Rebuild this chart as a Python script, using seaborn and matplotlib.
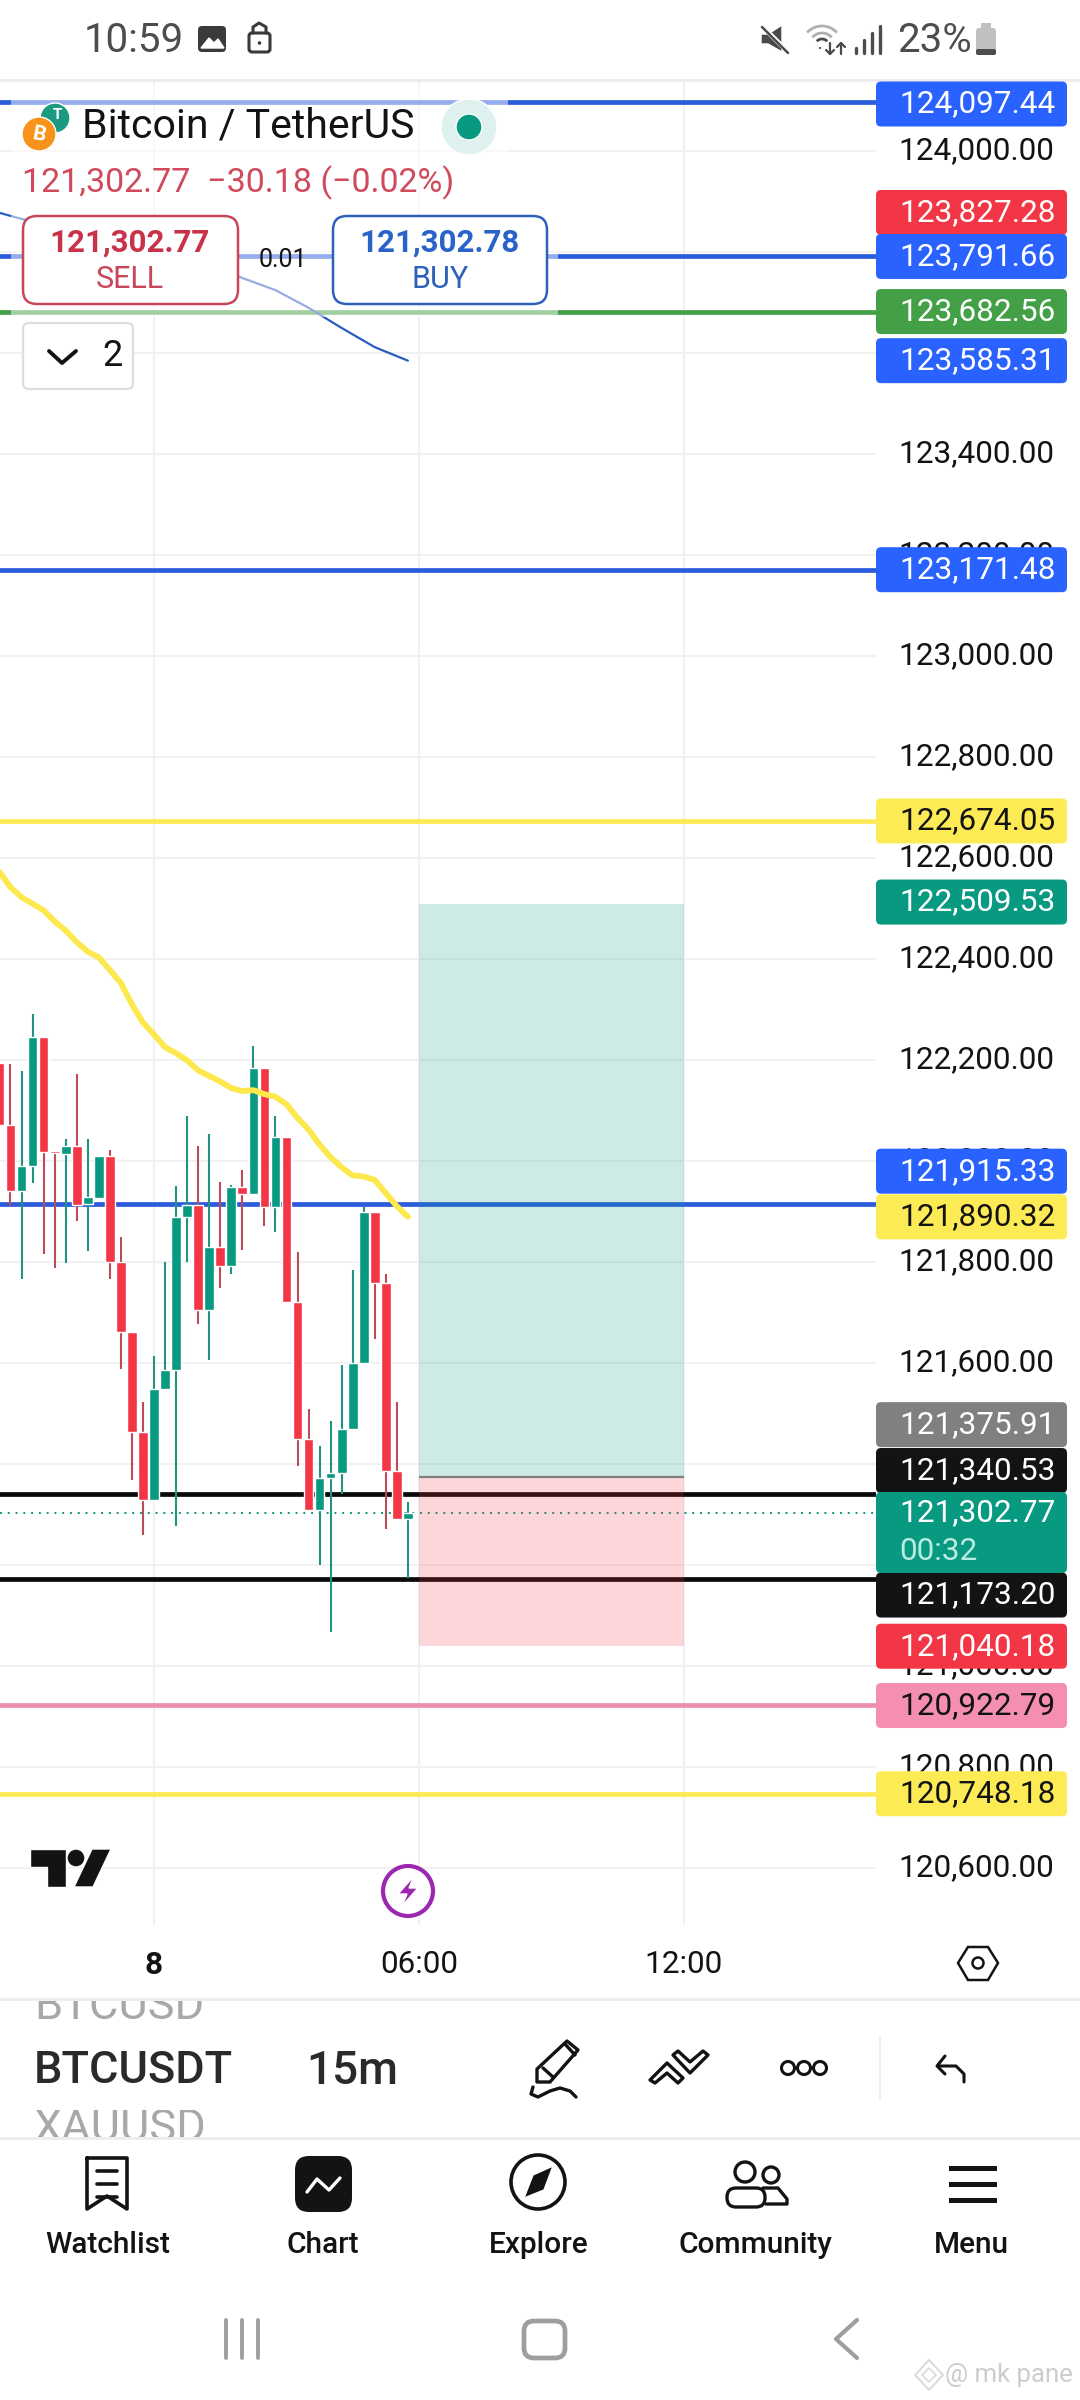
import matplotlib
matplotlib.use('Agg')
import matplotlib.pyplot as plt
import seaborn as sns
from matplotlib.patches import Arc, Circle, FancyBboxPatch, Polygon, Rectangle
from matplotlib.transforms import ScaledTranslation

# candles, 15m
opens = [122195, 122071, 121942, 121990, 122247, 122020, 122014, 122030, 121915, 121927,
         122010, 121800, 121662, 121465, 121330, 121550, 121586, 121889, 121913, 121705,
         121831, 121792, 121949, 121936, 122185, 121909, 122048, 121722, 121451, 121310,
         121374, 121382, 121470, 121601, 121899, 121760, 121387, 121291]
closes = [122071, 121942, 121990, 122247, 122018, 122017, 122030, 121914, 121929, 122010,
          121800, 121662, 121465, 121330, 121550, 121586, 121889, 121913, 121705, 121831,
          121792, 121949, 121936, 122185, 121909, 122048, 121722, 121451, 121310, 121374,
          121382, 121470, 121601, 121899, 121760, 121387, 121291, 121302.77]
highs = [122195, 122192, 122179, 122291, 122247, 122020, 122045, 122172, 122045, 122010,
         122022, 121850, 121662, 121523, 121614, 121800, 121951, 122089, 122030, 122055,
         121960, 121954, 121982, 122228, 122185, 122089, 122048, 121820, 121510, 121436,
         121485, 121596, 121785, 121909, 121899, 121776, 121523, 121325]
lows = [122060, 121911, 121768, 121958, 121816, 121788, 121798, 121881, 121823, 121927,
        121768, 121588, 121369, 121261, 121330, 121550, 121278, 121800, 121677, 121606,
        121750, 121776, 121825, 121936, 121871, 121861, 121722, 121396, 121310, 121200,
        121068, 121341, 121470, 121601, 121648, 121273, 121291, 121175]

yellow_ma = [122573, 122543, 122523, 122510, 122497, 122475, 122457, 122434, 122415, 122404,
             122379, 122353, 122311, 122275, 122251, 122226, 122214, 122200, 122180, 122169,
             122158, 122145, 122139, 122141, 122133, 122128, 122113, 122086, 122063, 122033,
             122008, 121988, 121972, 121970, 121963, 121937, 121911, 121890.32]
blue_ma_idx = [0, 2, 8, 14, 20, 22, 25, 28, 31, 34, 37]
blue_ma = [123878, 123866, 123836, 123804, 123769, 123749, 123725, 123690, 123650, 123612, 123585.31]

# horizontal levels
level_prices = [124097.44, 123791.66, 123682.56, 123171.48, 122674.05, 121915.33,
                121340.53, 121173.20, 120922.79, 120748.18]
level_colors = ['#2b5cdc', '#2b5cdc', '#43a047', '#2b5cdc', '#fdeb56', '#2b5cdc',
                '#0a0a0a', '#0a0a0a', '#ee8fb2', '#fdeb56']
last_price = 121302.77

# long position tool
pos_start, pos_end = 38, 62
take_profit = 122509.53
entry = 121375.91
stop_loss = 121040.18

# axes labels
y_ticks = [120600 + 200 * k for k in range(18)]
x_ticks = [14, 38, 62]
x_labels = ['8', '06:00', '12:00']

# price tags on the right: value, fill, text colour, shift from its level (labels push apart)
tag_prices = [124097.44, 123827.28, 123791.66, 123682.56, 123585.31, 123171.48, 122674.05,
              122509.53, 121915.33, 121890.32, 121375.91, 121340.53, 121173.20, 121040.18,
              120922.79, 120748.18]
tag_fills = ['#2962ff', '#f23645', '#2962ff', '#43a047', '#2962ff', '#2962ff', '#fdeb56',
             '#089981', '#2962ff', '#fdeb56', '#808080', '#131313', '#131313', '#f23645',
             '#f48fb1', '#fdeb56']
tag_texts = ['white', 'white', 'white', 'white', 'white', 'white', '#131313',
             'white', 'white', '#131313', 'white', 'white', 'white', 'white',
             '#131313', '#131313']
tag_shift = [2, -26, 0, 0, 0, 0, 0, -2, -33, 0, -52, -24, 16, 0, 0, 0]

UP = '#089981'
DOWN = '#f23645'

sns.set_theme(style='white', rc={'axes.facecolor': 'white', 'figure.facecolor': 'white'})
plt.rcParams['font.family'] = ['Roboto', 'DejaVu Sans']

fig = plt.figure(figsize=(10.8, 24), dpi=100)
ax = fig.add_axes([0, 1 - 1925 / 2400, 876 / 1080, 1845 / 2400])

# px on the phone: y = 102 + (124097.44 - price) * 0.5051, x = 11.04 * i
ax.set_xlim(0.05, 79.4)
ax.set_ylim(120488, 124141)

ax.set_yticks(y_ticks)
ax.set_yticklabels([f'{t:,.2f}' for t in y_ticks])
ax.yaxis.tick_right()
ax.set_xticks(x_ticks)
ax.set_xticklabels(x_labels)
ax.get_xticklabels()[0].set_fontweight('bold')
ax.tick_params(axis='y', length=0, labelsize=22.7, pad=16, labelcolor='#131313')
ax.tick_params(axis='x', length=0, labelsize=22.7, pad=18, labelcolor='#131313')
# the app prints its scale labels a little above the grid line
for t in ax.get_yticklabels():
    t.set_transform(t.get_transform() + ScaledTranslation(0, 3.5 / 100, fig.dpi_scale_trans))
ax.grid(True, color='#f1f1f1', lw=1.4)
ax.set_axisbelow(True)
sns.despine(ax=ax, left=True, bottom=True, right=True, top=True)

# levels
for price, col in zip(level_prices, level_colors):
    ax.axhline(price, color=col, lw=3.4, zorder=2)
ax.axhline(last_price, color=UP, lw=1.4, ls=(0, (1, 3)), zorder=2)

# moving averages
sns.lineplot(x=list(range(len(yellow_ma))), y=yellow_ma, color='#fde84e', lw=4.2, ax=ax,
             zorder=5, solid_capstyle='round')
sns.lineplot(x=blue_ma_idx, y=blue_ma, color='#2b5cc0', lw=1.6, ax=ax, zorder=3)

# candles
for i, (o, c, h, l) in enumerate(zip(opens, closes, highs, lows)):
    up = c >= o
    ax.vlines(i, l, h, color='#1f9480' if up else '#bf4a5c', lw=1.5, zorder=3)
    ax.bar(i, max(abs(c - o), 4), bottom=min(o, c), width=0.88, color=UP if up else DOWN, zorder=4)

# position tool
ax.fill_between([pos_start, pos_end], entry, take_profit, color=UP, alpha=0.2, lw=0, zorder=6)
ax.fill_between([pos_start, pos_end], stop_loss, entry, color=DOWN, alpha=0.2, lw=0, zorder=6)
ax.hlines(entry, pos_start, pos_end, color='#808080', lw=1.6, zorder=6)

# everything around the chart is drawn in phone pixels on an overlay
ov = fig.add_axes([0, 0, 1, 1], facecolor='none')
ov.set_xlim(0, 1080)
ov.set_ylim(2400, 0)
ov.axis('off')


def price_y(p):
    return 102 + (124097.44 - p) * 0.5051


def label(x, y, s, size=22.7, color='#131313', ha='left', **kw):
    return ov.text(x, y, s, fontsize=size, color=color, ha=ha, va='center', **kw)


def rbox(x0, y0, x1, y1, fc, ec='none', lw=0, r=5, z=10):
    p = FancyBboxPatch((x0, y0), x1 - x0, y1 - y0, boxstyle=f'round,pad=0,rounding_size={r}',
                       fc=fc, ec=ec, lw=lw, zorder=z)
    ov.add_patch(p)
    return p


def stroke(xs, ys, color='#131313', lw=2.4, z=12):
    ov.plot(xs, ys, color=color, lw=lw, zorder=z, solid_capstyle='round', solid_joinstyle='round')


def outline(pts, lw=2.4, ec='#131313'):
    ov.add_patch(Polygon(pts, fill=False, ec=ec, lw=lw, joinstyle='round', zorder=12))


# legend rows wash out what runs behind them
ov.add_patch(Rectangle((11, 85), 497, 90, fc='white', alpha=0.5, lw=0, zorder=1))
ov.add_patch(Rectangle((11, 175), 547, 142, fc='white', alpha=0.5, lw=0, zorder=1))

# price tags
for p, fill, txt, shift in zip(tag_prices, tag_fills, tag_texts, tag_shift):
    yc = price_y(p) + shift
    rbox(876, yc - 22.5, 1067, yc + 22.5, fill)
    label(899, yc, f'{p:,.2f}', color=txt, zorder=13)
rbox(876, 1492, 1067, 1573, UP, z=11)
label(899, 1513, f'{last_price:,.2f}', color='white', zorder=13)
label(899, 1552, '00:32', color='#b9ebe0', zorder=13)

# dividers
for y in [80, 1999, 2138]:
    ov.plot([0, 1080], [y, y], color='#ececec', lw=2)
ov.plot([880, 880], [2037, 2100], color='#eeeeee', lw=1.4)

# status bar
label(84, 41, '10:59', size=29, color='#4d4d4d')
rbox(198, 26, 226, 52, '#3a3a3a', r=4)
ov.add_patch(Polygon([(201, 48), (209, 38), (214, 43), (218, 39), (224, 48)], fc='white', zorder=12))
rbox(249, 33, 270, 52, 'white', ec='#3a3a3a', lw=2.2, r=3)
ov.add_patch(Circle((259.5, 43), 2.5, fc='#3a3a3a', zorder=12))
stroke([253, 253, 259, 266, 266], [33, 27, 23, 27, 33], color='#3a3a3a', lw=2.2)
ov.add_patch(Polygon([(761, 34), (768, 34), (782, 25), (782, 52), (768, 44), (761, 44)], fc='#4a4a4a', zorder=12))
stroke([762, 789], [26, 53], color='white', lw=3.4)
stroke([762, 788], [27, 53], color='#4a4a4a', lw=1.8)
for r, col, lw in [(20, '#b0b0b0', 2), (13, '#b0b0b0', 2), (7, '#4a4a4a', 2)]:
    ov.add_patch(Arc((822, 46), 2 * r, 2 * r, theta1=222, theta2=318, ec=col, lw=lw, zorder=12))
ov.add_patch(Circle((820, 48), 1.8, fc='#4a4a4a', zorder=12))
stroke([830, 830], [43, 54], color='#4a4a4a', lw=1.6)
stroke([826, 830, 834], [50, 54, 50], color='#4a4a4a', lw=1.6)
stroke([841, 841], [43, 54], color='#4a4a4a', lw=1.6)
stroke([837, 841, 845], [47, 43, 47], color='#4a4a4a', lw=1.6)
for x, top in zip([856, 864, 872, 880], [48, 40, 33, 26]):
    ov.plot([x, x], [53, top], color='#4d4d4d', lw=2.4, zorder=12)
label(897, 41, '23%', size=29, color='#4d4d4d')
rbox(976, 28, 996, 55, '#c0c0c0', r=3)
ov.add_patch(Rectangle((981, 23), 10, 6, fc='#c0c0c0', lw=0, zorder=10))
rbox(976, 49, 996, 55, '#4d4d4d', r=2, z=11)

# symbol header
ov.add_patch(Circle((55, 118), 15, fc='#1a9a80', zorder=10))
label(57, 115, 'T', size=11, color='white', ha='center', fontweight='bold', zorder=10.5)
ov.add_patch(Circle((39, 134), 17, fc='#f7931a', ec='white', lw=1, zorder=11))
label(39, 135, 'B', size=15, color='white', ha='center', fontweight='bold', rotation=-10, zorder=12)
label(82, 126, 'Bitcoin / TetherUS', size=29.5, color='#131313', zorder=12)
ov.add_patch(Circle((469, 127), 28, fc='#dff1ee', zorder=10))
ov.add_patch(Circle((469, 127), 13, fc=UP, zorder=11))
label(22, 183, '121,302.77  −30.18 (−0.02%)', size=24.5, color='#cf4a5b', zorder=12)

# sell / buy
rbox(23, 216, 238, 304, 'white', ec='#c8455a', lw=1.8, r=14)
label(130, 243, '121,302.77', size=22.5, color='#c8334a', ha='center', fontweight='bold', zorder=12)
label(130, 279, 'SELL', size=22, color='#c8455a', ha='center', zorder=12)
rbox(333, 216, 547, 304, 'white', ec='#2e62b8', lw=1.8, r=14)
label(440, 243, '121,302.78', size=22.5, color='#2962c8', ha='center', fontweight='bold', zorder=12)
label(440, 279, 'BUY', size=22, color='#2e62b8', ha='center', zorder=12)
label(283, 260, '0.01', size=18, ha='center', zorder=12)
rbox(23, 323, 133, 389, 'white', ec='#dddddd', lw=1.6, r=6)
stroke([49, 62, 76], [351, 363, 351], lw=2.8)
label(112, 356, '2', size=26, ha='center', zorder=12)

# tradingview logo
ov.add_patch(Polygon([(30, 1849), (66, 1849), (66, 1887), (47, 1887), (47, 1867), (30, 1867)], fc='#131313', zorder=10))
ov.add_patch(Circle((76, 1858), 9, fc='#131313', zorder=10))
ov.add_patch(Polygon([(92, 1849), (111, 1849), (93, 1887), (74, 1887)], fc='#131313', zorder=10))

# lightning badge
ov.add_patch(Circle((408, 1891), 25, fc='white', ec='#9c27b0', lw=3, zorder=10))
ov.add_patch(Polygon([(414, 1876), (398, 1894), (407, 1894), (402, 1906), (418, 1888), (409, 1888)], fc='#9c27b0', zorder=11))

# chart settings
ov.add_patch(Polygon([(968, 1947), (988, 1947), (998, 1963), (988, 1980), (968, 1980), (958, 1963)],
                     fill=False, ec='#131313', lw=1.8, zorder=10))
ov.add_patch(Circle((978, 1963), 5.5, fill=False, ec='#131313', lw=1.8, zorder=10))

# toolbar: the symbol picker rows above and below are cut off
t = label(34, 2007, 'BTCUSD', size=32.5, color='#a8a8a8')
t.set_clip_path(Rectangle((0, 2001), 400, 20, transform=ov.transData))
t.set_clip_on(True)
t = label(34, 2129, 'XAUUSD', size=32.5, color='#a8a8a8')
t.set_clip_path(Rectangle((0, 2110), 400, 27, transform=ov.transData))
t.set_clip_on(True)
label(34, 2071, 'BTCUSDT', size=32.5, fontweight='medium', color='#2a2a2a')
label(306, 2071, '15m', size=33, fontweight='medium', color='#2a2a2a')
# pencil
outline([(567, 2041), (578, 2050), (550, 2082), (537, 2082), (537, 2069)])
stroke([565, 575], [2044, 2055])
stroke([543, 553], [2068, 2077])
stroke([533, 531, 538, 550, 560, 570, 576], [2087, 2094, 2097, 2091, 2088, 2091, 2097])
# drawing tool
outline([(650, 2080), (667, 2063), (683, 2078), (678, 2083), (667, 2073), (655, 2083)])
outline([(673, 2055), (678, 2051), (690, 2062), (703, 2051), (708, 2055), (690, 2073)])
# more
for x in [788, 804, 820]:
    ov.add_patch(Circle((x, 2068), 6.5, fill=False, ec='#131313', lw=2.2, zorder=12))
# undo
stroke([945, 937, 945], [2056, 2066, 2074], lw=2.2)
stroke([938, 956, 964, 964], [2066, 2066, 2074, 2082], lw=2.2)

# bottom nav
nav_x = [108, 323, 539, 755, 971]
nav_labels = ['Watchlist', 'Chart', 'Explore', 'Community', 'Menu']
for x, s in zip(nav_x, nav_labels):
    label(x, 2245, s, size=21.5, ha='center', fontweight='medium', color='#131313')
stroke([87, 127, 127, 107, 87, 87], [2158, 2158, 2209, 2196, 2209, 2158], lw=2.6)
for y in [2171, 2184, 2197]:
    ov.plot([97, 117], [y, y], color='#131313', lw=2.6)
rbox(295, 2156, 352, 2212, '#131313', r=14)
stroke([307, 317, 329, 340], [2192, 2179, 2190, 2178], color='white', lw=2.4)
ov.add_patch(Circle((538, 2182), 27, fill=False, ec='#131313', lw=2.6, zorder=12))
ov.add_patch(Polygon([(553, 2166), (544, 2190), (524, 2198), (533, 2175)], fc='#131313', zorder=12))
ov.add_patch(Circle((745, 2172), 10, fill=False, ec='#131313', lw=2.4, zorder=12))
ov.add_patch(Circle((771, 2175), 8, fill=False, ec='#131313', lw=2.4, zorder=12))
stroke([763, 778, 787, 787, 766], [2188, 2188, 2199, 2204, 2204], lw=2.4)
rbox(727, 2188, 765, 2207, 'white', ec='#131313', lw=2.4, r=9, z=12)
for y in [2168, 2184, 2200]:
    ov.add_patch(Rectangle((949, y - 2.5), 48, 5, fc='#131313', lw=0, zorder=12))

# android buttons
for x in [226, 242, 258]:
    ov.plot([x, x], [2320, 2358], color='#9e9e9e', lw=2.8)
rbox(524, 2321, 565, 2358, 'white', ec='#9e9e9e', lw=3.4, r=10)
stroke([857, 836, 857], [2320, 2339, 2358], color='#9e9e9e', lw=3)

# watermark
outline([(929, 2360), (943, 2375), (929, 2390), (915, 2375)], lw=1.4, ec='#dadada')
outline([(929, 2368), (936, 2375), (929, 2382), (922, 2375)], lw=1.2, ec='#dadada')
label(945, 2375, '@ mk pane', size=18.5, color='#cdcdcd', zorder=12)

fig.savefig('out.png', dpi=100)
